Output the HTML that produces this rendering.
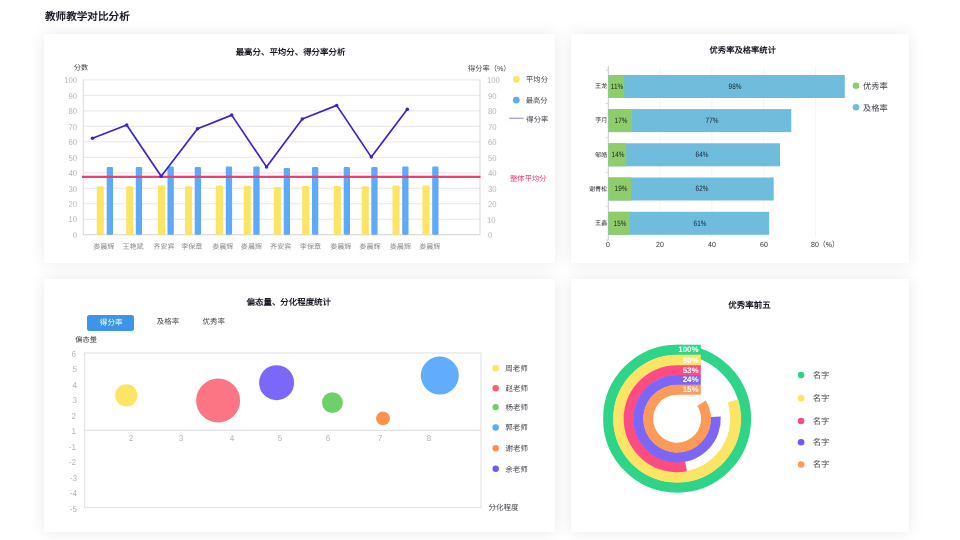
<!DOCTYPE html>
<html lang="zh-CN">
<head>
<meta charset="utf-8">
<title>教师教学对比分析</title>
<style>
html,body{margin:0;padding:0;}
body{width:960px;height:540px;overflow:hidden;background:#ffffff;font-family:"Liberation Sans",sans-serif;position:relative;text-rendering:geometricPrecision;}
.card{position:absolute;background:#ffffff;box-shadow:0 0 15px rgba(0,0,0,0.085);}
.t{position:absolute;white-space:nowrap;margin:0;padding:0;}
.btn{position:absolute;background:#3d95e9;border-radius:2.5px;}
svg{position:absolute;left:0;top:0;}
.layer{position:absolute;left:0;top:0;width:960px;height:540px;filter:blur(0.4px);}
</style>
</head>
<body>
<div class="card" style="left:44px;top:34px;width:511.3px;height:228.8px;"></div>
<div class="card" style="left:571.4px;top:34px;width:337.4px;height:228.8px;"></div>
<div class="card" style="left:44px;top:278.7px;width:511.3px;height:253px;"></div>
<div class="card" style="left:571.4px;top:278.7px;width:337.4px;height:253px;"></div>
<div class="layer">
<svg width="960" height="540" viewBox="0 0 960 540">
<rect x="83.3" y="234.20" width="396.7" height="1" fill="#e7e7eb"/>
<rect x="83.3" y="218.72" width="396.7" height="1" fill="#e7e7eb"/>
<rect x="83.3" y="203.24" width="396.7" height="1" fill="#e7e7eb"/>
<rect x="83.3" y="187.76" width="396.7" height="1" fill="#e7e7eb"/>
<rect x="83.3" y="172.28" width="396.7" height="1" fill="#e7e7eb"/>
<rect x="83.3" y="156.80" width="396.7" height="1" fill="#e7e7eb"/>
<rect x="83.3" y="141.32" width="396.7" height="1" fill="#e7e7eb"/>
<rect x="83.3" y="125.84" width="396.7" height="1" fill="#e7e7eb"/>
<rect x="83.3" y="110.36" width="396.7" height="1" fill="#e7e7eb"/>
<rect x="83.3" y="94.88" width="396.7" height="1" fill="#e7e7eb"/>
<rect x="83.3" y="79.40" width="396.7" height="1" fill="#e7e7eb"/>
<rect x="82.8" y="79.40" width="1" height="155.80" fill="#d9d9de"/>
<rect x="479.5" y="79.40" width="1" height="155.80" fill="#d9d9de"/>
<rect x="83.3" y="234.20" width="396.7" height="1" fill="#d9d9de"/>
<rect x="96.7" y="186.2" width="7.1" height="48.50" rx="1.2" fill="#fce465"/>
<rect x="106.7" y="167.0" width="6.3" height="67.70" rx="1.2" fill="#5ea9f8"/>
<rect x="126.2" y="186.2" width="7.1" height="48.50" rx="1.2" fill="#fce465"/>
<rect x="135.8" y="167.0" width="6.3" height="67.70" rx="1.2" fill="#5ea9f8"/>
<rect x="158.0" y="185.4" width="7.1" height="49.30" rx="1.2" fill="#fce465"/>
<rect x="167.5" y="166.6" width="6.3" height="68.10" rx="1.2" fill="#5ea9f8"/>
<rect x="185.0" y="186.2" width="7.1" height="48.50" rx="1.2" fill="#fce465"/>
<rect x="194.7" y="167.0" width="6.3" height="67.70" rx="1.2" fill="#5ea9f8"/>
<rect x="215.8" y="185.6" width="7.1" height="49.10" rx="1.2" fill="#fce465"/>
<rect x="225.8" y="166.6" width="6.3" height="68.10" rx="1.2" fill="#5ea9f8"/>
<rect x="243.7" y="185.8" width="7.1" height="48.90" rx="1.2" fill="#fce465"/>
<rect x="253.3" y="166.6" width="6.3" height="68.10" rx="1.2" fill="#5ea9f8"/>
<rect x="273.8" y="187.0" width="7.1" height="47.70" rx="1.2" fill="#fce465"/>
<rect x="283.7" y="168.0" width="6.3" height="66.70" rx="1.2" fill="#5ea9f8"/>
<rect x="302.2" y="186.0" width="7.1" height="48.70" rx="1.2" fill="#fce465"/>
<rect x="312.0" y="167.0" width="6.3" height="67.70" rx="1.2" fill="#5ea9f8"/>
<rect x="333.8" y="186.0" width="7.1" height="48.70" rx="1.2" fill="#fce465"/>
<rect x="343.7" y="167.0" width="6.3" height="67.70" rx="1.2" fill="#5ea9f8"/>
<rect x="361.7" y="186.2" width="7.1" height="48.50" rx="1.2" fill="#fce465"/>
<rect x="371.3" y="167.0" width="6.3" height="67.70" rx="1.2" fill="#5ea9f8"/>
<rect x="392.5" y="185.6" width="7.1" height="49.10" rx="1.2" fill="#fce465"/>
<rect x="402.2" y="166.6" width="6.3" height="68.10" rx="1.2" fill="#5ea9f8"/>
<rect x="422.5" y="185.6" width="7.1" height="49.10" rx="1.2" fill="#fce465"/>
<rect x="432.2" y="166.6" width="6.3" height="68.10" rx="1.2" fill="#5ea9f8"/>
<rect x="82" y="175.75" width="398.5" height="2.2" fill="#f23a6e"/>
<polyline fill="none" stroke="#3a20d8" stroke-width="1.7" stroke-linejoin="round" points="92.5,138.3 126.7,125.0 161.2,176.3 197.5,128.8 231.7,115.1 266.5,166.9 302.3,119.0 336.7,105.4 371.3,157.1 407.3,109.2"/>
<circle cx="92.5" cy="138.3" r="1.75" fill="#3a20d8"/>
<circle cx="126.7" cy="125.0" r="1.75" fill="#3a20d8"/>
<circle cx="161.2" cy="176.3" r="1.75" fill="#3a20d8"/>
<circle cx="197.5" cy="128.8" r="1.75" fill="#3a20d8"/>
<circle cx="231.7" cy="115.1" r="1.75" fill="#3a20d8"/>
<circle cx="266.5" cy="166.9" r="1.75" fill="#3a20d8"/>
<circle cx="302.3" cy="119.0" r="1.75" fill="#3a20d8"/>
<circle cx="336.7" cy="105.4" r="1.75" fill="#3a20d8"/>
<circle cx="371.3" cy="157.1" r="1.75" fill="#3a20d8"/>
<circle cx="407.3" cy="109.2" r="1.75" fill="#3a20d8"/>
<circle cx="516.3" cy="79.3" r="3.4" fill="#fce465"/>
<circle cx="516.3" cy="100.1" r="3.4" fill="#5ea9f8"/>
<rect x="509" y="117.7" width="14.7" height="1" fill="#8d7fe6"/>
<rect x="659.60" y="66" width="1" height="171" fill="#f4f4f6"/>
<rect x="711.40" y="66" width="1" height="171" fill="#f4f4f6"/>
<rect x="763.20" y="66" width="1" height="171" fill="#f4f4f6"/>
<rect x="815.00" y="66" width="1" height="171" fill="#f4f4f6"/>
<rect x="607.8" y="65.8" width="1" height="174.5" fill="#c9c9cf"/>
<rect x="605.8" y="69.6" width="2.2" height="0.8" fill="#c9c9cf"/>
<rect x="605.8" y="103.3" width="2.2" height="0.8" fill="#c9c9cf"/>
<rect x="605.8" y="137.4" width="2.2" height="0.8" fill="#c9c9cf"/>
<rect x="605.8" y="171.9" width="2.2" height="0.8" fill="#c9c9cf"/>
<rect x="605.8" y="205.9" width="2.2" height="0.8" fill="#c9c9cf"/>
<rect x="605.8" y="239.6" width="2.2" height="0.8" fill="#c9c9cf"/>
<rect x="608.3" y="75.0" width="236.5" height="23" fill="#70bcdd"/>
<rect x="608.3" y="75.0" width="15.9" height="23" fill="#8fcd6c"/>
<rect x="608.3" y="109.1" width="183.0" height="23" fill="#70bcdd"/>
<rect x="608.3" y="109.1" width="23.7" height="23" fill="#8fcd6c"/>
<rect x="608.3" y="143.3" width="171.7" height="23" fill="#70bcdd"/>
<rect x="608.3" y="143.3" width="17.9" height="23" fill="#8fcd6c"/>
<rect x="608.3" y="177.5" width="165.4" height="23" fill="#70bcdd"/>
<rect x="608.3" y="177.5" width="22.7" height="23" fill="#8fcd6c"/>
<rect x="608.3" y="211.8" width="160.9" height="23" fill="#70bcdd"/>
<rect x="608.3" y="211.8" width="21.5" height="23" fill="#8fcd6c"/>
<circle cx="856" cy="85.7" r="3.3" fill="#8fcd6c"/>
<circle cx="856" cy="107.2" r="3.3" fill="#70bcdd"/>
<rect x="84.7" y="353.0" width="396.3" height="154.6" fill="none" stroke="#dfdfe4" stroke-width="1"/>
<rect x="84.7" y="429.8" width="396.3" height="1" fill="#dadadf"/>
<circle cx="126.3" cy="395.3" r="11.1" fill="#fce465"/>
<circle cx="218.1" cy="400.5" r="22.0" fill="#fc7585"/>
<circle cx="276.6" cy="382.7" r="17.5" fill="#7c68f8"/>
<circle cx="332.4" cy="402.7" r="10.4" fill="#6fd06b"/>
<circle cx="383.0" cy="418.4" r="6.9" fill="#fc9150"/>
<circle cx="439.8" cy="375.6" r="19.0" fill="#62adfb"/>
<circle cx="495.7" cy="368.3" r="3.2" fill="#fce465"/>
<circle cx="495.7" cy="388.2" r="3.2" fill="#f4606f"/>
<circle cx="495.7" cy="407.1" r="3.2" fill="#6fd06b"/>
<circle cx="495.7" cy="427.5" r="3.2" fill="#5ea9f8"/>
<circle cx="495.7" cy="448.2" r="3.2" fill="#fc9150"/>
<circle cx="495.7" cy="468.8" r="3.2" fill="#7259f0"/>
<circle cx="677.1" cy="418.7" r="68.80" fill="none" stroke="#2ed487" stroke-width="10.40"/>
<rect x="676.6" y="344.70" width="24.2" height="10.40" fill="#2ed487"/>
<path d="M677.10,354.70 A64.0,64.0 0 1 0 738.04,399.14 L727.66,402.47 A53.1,53.1 0 1 1 677.10,365.60 Z" fill="#fce465"/>
<rect x="676.6" y="354.70" width="24.2" height="10.90" fill="#fce465"/>
<path d="M677.10,365.20 A53.5,53.5 0 1 0 686.94,471.29 L685.07,461.26 A43.300000000000004,43.300000000000004 0 1 1 677.10,375.40 Z" fill="#fd4c82"/>
<rect x="676.6" y="365.20" width="24.2" height="10.20" fill="#fd4c82"/>
<path d="M677.10,375.00 A43.7,43.7 0 1 0 720.74,416.41 L710.65,416.94 A33.6,33.6 0 1 1 677.10,385.10 Z" fill="#7b66f8"/>
<rect x="676.6" y="375.00" width="24.2" height="10.10" fill="#7b66f8"/>
<path d="M677.10,384.70 A34.0,34.0 0 1 0 705.78,400.43 L697.34,405.80 A24.0,24.0 0 1 1 677.10,394.70 Z" fill="#fc9b59"/>
<rect x="676.6" y="384.70" width="24.2" height="10.00" fill="#fc9b59"/>
<circle cx="801.1" cy="375.1" r="3.3" fill="#2ed487"/>
<circle cx="801.1" cy="398.3" r="3.3" fill="#fce465"/>
<circle cx="801.1" cy="421.0" r="3.3" fill="#fd4c82"/>
<circle cx="801.1" cy="442.3" r="3.3" fill="#7259f0"/>
<circle cx="801.1" cy="464.5" r="3.3" fill="#fc9b59"/>
</svg>
<div class="btn" style="left:86.7px;top:315px;width:47.1px;height:15.5px;"></div>
<div class="t" id="t0" style="left:45.00px;top:10.18px;height:14.84px;line-height:14.84px;font-size:10.6px;color:#1c1c28;font-weight:bold;">教师教学对比分析</div>
<div class="t" id="t1" style="left:290.50px;top:47.03px;height:11.83px;line-height:11.83px;font-size:8.45px;color:#1c1c28;font-weight:bold;transform-origin:50% 50%;transform:translateX(-50%);">最高分、平均分、得分率分析</div>
<div class="t" id="t2" style="left:73.83px;top:63.19px;height:10.08px;line-height:10.08px;font-size:7.2px;color:#42424a;">分数</div>
<div class="t" id="t3" style="left:467.88px;top:63.99px;height:10.15px;line-height:10.15px;font-size:7.25px;color:#42424a;">得分率（%）</div>
<div class="t" id="t4" style="left:77.33px;top:230.15px;height:11.76px;line-height:11.76px;font-size:8.4px;color:#b4b4ba;transform-origin:100% 50%;transform:translateX(-100%) scaleX(0.92);">0</div>
<div class="t" id="t5" style="left:487.62px;top:230.18px;height:11.76px;line-height:11.76px;font-size:8.4px;color:#b4b4ba;transform-origin:0 50%;transform:scaleX(0.92);">0</div>
<div class="t" id="t6" style="left:77.33px;top:214.28px;height:11.76px;line-height:11.76px;font-size:8.4px;color:#b4b4ba;transform-origin:100% 50%;transform:translateX(-100%) scaleX(0.92);">10</div>
<div class="t" id="t7" style="left:486.73px;top:214.80px;height:11.76px;line-height:11.76px;font-size:8.4px;color:#b4b4ba;transform-origin:0 50%;transform:scaleX(0.92);">10</div>
<div class="t" id="t8" style="left:77.33px;top:199.23px;height:11.76px;line-height:11.76px;font-size:8.4px;color:#b4b4ba;transform-origin:100% 50%;transform:translateX(-100%) scaleX(0.92);">20</div>
<div class="t" id="t9" style="left:487.60px;top:199.26px;height:11.76px;line-height:11.76px;font-size:8.4px;color:#b4b4ba;transform-origin:0 50%;transform:scaleX(0.92);">20</div>
<div class="t" id="t10" style="left:77.33px;top:183.86px;height:11.76px;line-height:11.76px;font-size:8.4px;color:#b4b4ba;transform-origin:100% 50%;transform:translateX(-100%) scaleX(0.92);">30</div>
<div class="t" id="t11" style="left:488.26px;top:183.92px;height:11.76px;line-height:11.76px;font-size:8.4px;color:#b4b4ba;transform-origin:0 50%;transform:scaleX(0.92);">30</div>
<div class="t" id="t12" style="left:77.33px;top:168.31px;height:11.76px;line-height:11.76px;font-size:8.4px;color:#b4b4ba;transform-origin:100% 50%;transform:translateX(-100%) scaleX(0.92);">40</div>
<div class="t" id="t13" style="left:487.69px;top:168.34px;height:11.76px;line-height:11.76px;font-size:8.4px;color:#b4b4ba;transform-origin:0 50%;transform:scaleX(0.92);">40</div>
<div class="t" id="t14" style="left:77.33px;top:152.98px;height:11.76px;line-height:11.76px;font-size:8.4px;color:#b4b4ba;transform-origin:100% 50%;transform:translateX(-100%) scaleX(0.92);">50</div>
<div class="t" id="t15" style="left:487.52px;top:153.04px;height:11.76px;line-height:11.76px;font-size:8.4px;color:#b4b4ba;transform-origin:0 50%;transform:scaleX(0.92);">50</div>
<div class="t" id="t16" style="left:77.33px;top:137.39px;height:11.76px;line-height:11.76px;font-size:8.4px;color:#b4b4ba;transform-origin:100% 50%;transform:translateX(-100%) scaleX(0.92);">60</div>
<div class="t" id="t17" style="left:487.63px;top:137.42px;height:11.76px;line-height:11.76px;font-size:8.4px;color:#b4b4ba;transform-origin:0 50%;transform:scaleX(0.92);">60</div>
<div class="t" id="t18" style="left:77.33px;top:122.10px;height:11.76px;line-height:11.76px;font-size:8.4px;color:#b4b4ba;transform-origin:100% 50%;transform:translateX(-100%) scaleX(0.92);">70</div>
<div class="t" id="t19" style="left:488.22px;top:122.16px;height:11.76px;line-height:11.76px;font-size:8.4px;color:#b4b4ba;transform-origin:0 50%;transform:scaleX(0.92);">70</div>
<div class="t" id="t20" style="left:77.33px;top:106.47px;height:11.76px;line-height:11.76px;font-size:8.4px;color:#b4b4ba;transform-origin:100% 50%;transform:translateX(-100%) scaleX(0.92);">80</div>
<div class="t" id="t21" style="left:487.63px;top:105.72px;height:11.76px;line-height:11.76px;font-size:8.4px;color:#b4b4ba;transform-origin:0 50%;transform:scaleX(0.92);">80</div>
<div class="t" id="t22" style="left:77.33px;top:90.51px;height:11.76px;line-height:11.76px;font-size:8.4px;color:#b4b4ba;transform-origin:100% 50%;transform:translateX(-100%) scaleX(0.92);">90</div>
<div class="t" id="t23" style="left:487.58px;top:90.54px;height:11.76px;line-height:11.76px;font-size:8.4px;color:#b4b4ba;transform-origin:0 50%;transform:scaleX(0.92);">90</div>
<div class="t" id="t24" style="left:77.33px;top:74.78px;height:11.76px;line-height:11.76px;font-size:8.4px;color:#b4b4ba;transform-origin:100% 50%;transform:translateX(-100%) scaleX(0.92);">100</div>
<div class="t" id="t25" style="left:486.73px;top:74.84px;height:11.76px;line-height:11.76px;font-size:8.4px;color:#b4b4ba;transform-origin:0 50%;transform:scaleX(0.92);">100</div>
<div class="t" id="t26" style="left:103.80px;top:243.23px;height:9.94px;line-height:9.94px;font-size:7.1px;color:#8c8c92;transform-origin:50% 50%;transform:translateX(-50%);">娄晨辉</div>
<div class="t" id="t27" style="left:133.03px;top:243.20px;height:9.94px;line-height:9.94px;font-size:7.1px;color:#8c8c92;transform-origin:50% 50%;transform:translateX(-50%);">王艳斌</div>
<div class="t" id="t28" style="left:164.00px;top:243.20px;height:9.94px;line-height:9.94px;font-size:7.1px;color:#8c8c92;transform-origin:50% 50%;transform:translateX(-50%);">齐安宾</div>
<div class="t" id="t29" style="left:191.80px;top:243.23px;height:9.94px;line-height:9.94px;font-size:7.1px;color:#8c8c92;transform-origin:50% 50%;transform:translateX(-50%);">李保章</div>
<div class="t" id="t30" style="left:222.80px;top:243.23px;height:9.94px;line-height:9.94px;font-size:7.1px;color:#8c8c92;transform-origin:50% 50%;transform:translateX(-50%);">娄晨辉</div>
<div class="t" id="t31" style="left:251.50px;top:243.28px;height:9.94px;line-height:9.94px;font-size:7.1px;color:#8c8c92;transform-origin:50% 50%;transform:translateX(-50%);">娄晨辉</div>
<div class="t" id="t32" style="left:280.70px;top:243.23px;height:9.94px;line-height:9.94px;font-size:7.1px;color:#8c8c92;transform-origin:50% 50%;transform:translateX(-50%);">齐安宾</div>
<div class="t" id="t33" style="left:310.50px;top:243.28px;height:9.94px;line-height:9.94px;font-size:7.1px;color:#8c8c92;transform-origin:50% 50%;transform:translateX(-50%);">李保章</div>
<div class="t" id="t34" style="left:340.80px;top:243.23px;height:9.94px;line-height:9.94px;font-size:7.1px;color:#8c8c92;transform-origin:50% 50%;transform:translateX(-50%);">娄晨辉</div>
<div class="t" id="t35" style="left:370.00px;top:243.20px;height:9.94px;line-height:9.94px;font-size:7.1px;color:#8c8c92;transform-origin:50% 50%;transform:translateX(-50%);">娄晨辉</div>
<div class="t" id="t36" style="left:400.40px;top:243.26px;height:9.94px;line-height:9.94px;font-size:7.1px;color:#8c8c92;transform-origin:50% 50%;transform:translateX(-50%);">娄晨辉</div>
<div class="t" id="t37" style="left:429.80px;top:243.23px;height:9.94px;line-height:9.94px;font-size:7.1px;color:#8c8c92;transform-origin:50% 50%;transform:translateX(-50%);">娄晨辉</div>
<div class="t" id="t38" style="left:510.08px;top:173.75px;height:10.22px;line-height:10.22px;font-size:7.3px;color:#f23a6e;">整体平均分</div>
<div class="t" id="t39" style="left:526.08px;top:74.55px;height:10.22px;line-height:10.22px;font-size:7.3px;color:#42424a;">平均分</div>
<div class="t" id="t40" style="left:525.69px;top:95.75px;height:10.22px;line-height:10.22px;font-size:7.3px;color:#42424a;">最高分</div>
<div class="t" id="t41" style="left:526.37px;top:114.96px;height:10.22px;line-height:10.22px;font-size:7.3px;color:#42424a;">得分率</div>
<div class="t" id="t42" style="left:742.76px;top:45.06px;height:11.62px;line-height:11.62px;font-size:8.3px;color:#1c1c28;font-weight:bold;transform-origin:50% 50%;transform:translateX(-50%);">优秀率及格率统计</div>
<div class="t" id="t43" style="left:607.28px;top:82.99px;height:8.54px;line-height:8.54px;font-size:6.1px;color:#33333a;transform-origin:100% 50%;transform:translateX(-100%);">王龙</div>
<div class="t" id="t44" style="left:617.20px;top:81.52px;height:10.92px;line-height:10.92px;font-size:7.8px;color:#16221a;transform-origin:50% 50%;transform:translateX(-50%) scaleX(0.82);">11%</div>
<div class="t" id="t45" style="left:734.91px;top:81.52px;height:10.92px;line-height:10.92px;font-size:7.8px;color:#14232c;transform-origin:50% 50%;transform:translateX(-50%) scaleX(0.82);">98%</div>
<div class="t" id="t46" style="left:607.45px;top:117.19px;height:8.54px;line-height:8.54px;font-size:6.1px;color:#33333a;transform-origin:100% 50%;transform:translateX(-100%);">李月</div>
<div class="t" id="t47" style="left:620.70px;top:115.72px;height:10.92px;line-height:10.92px;font-size:7.8px;color:#16221a;transform-origin:50% 50%;transform:translateX(-50%) scaleX(0.82);">17%</div>
<div class="t" id="t48" style="left:711.90px;top:115.72px;height:10.92px;line-height:10.92px;font-size:7.8px;color:#14232c;transform-origin:50% 50%;transform:translateX(-50%) scaleX(0.82);">77%</div>
<div class="t" id="t49" style="left:607.31px;top:151.52px;height:8.54px;line-height:8.54px;font-size:6.1px;color:#33333a;transform-origin:100% 50%;transform:translateX(-100%);">邹皓</div>
<div class="t" id="t50" style="left:618.10px;top:150.13px;height:10.92px;line-height:10.92px;font-size:7.8px;color:#16221a;transform-origin:50% 50%;transform:translateX(-50%) scaleX(0.82);">14%</div>
<div class="t" id="t51" style="left:701.70px;top:150.13px;height:10.92px;line-height:10.92px;font-size:7.8px;color:#14232c;transform-origin:50% 50%;transform:translateX(-50%) scaleX(0.82);">64%</div>
<div class="t" id="t52" style="left:607.16px;top:185.97px;height:8.54px;line-height:8.54px;font-size:6.1px;color:#33333a;transform-origin:100% 50%;transform:translateX(-100%);">谢青松</div>
<div class="t" id="t53" style="left:620.80px;top:183.91px;height:10.92px;line-height:10.92px;font-size:7.8px;color:#16221a;transform-origin:50% 50%;transform:translateX(-50%) scaleX(0.82);">19%</div>
<div class="t" id="t54" style="left:702.20px;top:183.91px;height:10.92px;line-height:10.92px;font-size:7.8px;color:#14232c;transform-origin:50% 50%;transform:translateX(-50%) scaleX(0.82);">62%</div>
<div class="t" id="t55" style="left:607.28px;top:219.59px;height:8.54px;line-height:8.54px;font-size:6.1px;color:#33333a;transform-origin:100% 50%;transform:translateX(-100%);">王鑫</div>
<div class="t" id="t56" style="left:620.00px;top:219.13px;height:10.92px;line-height:10.92px;font-size:7.8px;color:#16221a;transform-origin:50% 50%;transform:translateX(-50%) scaleX(0.82);">15%</div>
<div class="t" id="t57" style="left:700.36px;top:219.13px;height:10.92px;line-height:10.92px;font-size:7.8px;color:#14232c;transform-origin:50% 50%;transform:translateX(-50%) scaleX(0.82);">61%</div>
<div class="t" id="t58" style="left:608.21px;top:240.31px;height:10.64px;line-height:10.64px;font-size:7.6px;color:#33333a;transform-origin:50% 50%;transform:translateX(-50%) scaleX(0.92);">0</div>
<div class="t" id="t59" style="left:660.10px;top:240.31px;height:10.64px;line-height:10.64px;font-size:7.6px;color:#33333a;transform-origin:50% 50%;transform:translateX(-50%) scaleX(0.92);">20</div>
<div class="t" id="t60" style="left:711.90px;top:240.31px;height:10.64px;line-height:10.64px;font-size:7.6px;color:#33333a;transform-origin:50% 50%;transform:translateX(-50%) scaleX(0.92);">40</div>
<div class="t" id="t61" style="left:763.70px;top:240.31px;height:10.64px;line-height:10.64px;font-size:7.6px;color:#33333a;transform-origin:50% 50%;transform:translateX(-50%) scaleX(0.92);">60</div>
<div class="t" id="t62" style="left:810.98px;top:240.31px;height:10.64px;line-height:10.64px;font-size:7.6px;color:#33333a;transform-origin:0 50%;transform:scaleX(0.92);">80（%）</div>
<div class="t" id="t63" style="left:863.08px;top:80.56px;height:11.48px;line-height:11.48px;font-size:8.2px;color:#42424a;">优秀率</div>
<div class="t" id="t64" style="left:863.02px;top:102.94px;height:11.48px;line-height:11.48px;font-size:8.2px;color:#42424a;">及格率</div>
<div class="t" id="t65" style="left:288.80px;top:297.36px;height:11.83px;line-height:11.83px;font-size:8.45px;color:#1c1c28;font-weight:bold;transform-origin:50% 50%;transform:translateX(-50%);">偏态量、分化程度统计</div>
<div class="t" id="t66" style="left:111.20px;top:317.91px;height:10.64px;line-height:10.64px;font-size:7.6px;color:#ffffff;transform-origin:50% 50%;transform:translateX(-50%);">得分率</div>
<div class="t" id="t67" style="left:156.72px;top:317.06px;height:10.5px;line-height:10.5px;font-size:7.5px;color:#42424a;">及格率</div>
<div class="t" id="t68" style="left:202.56px;top:317.10px;height:10.5px;line-height:10.5px;font-size:7.5px;color:#42424a;">优秀率</div>
<div class="t" id="t69" style="left:75.36px;top:334.56px;height:10.08px;line-height:10.08px;font-size:7.2px;color:#42424a;">偏态量</div>
<div class="t" id="t70" style="left:488.53px;top:503.27px;height:10.5px;line-height:10.5px;font-size:7.5px;color:#42424a;">分化程度</div>
<div class="t" id="t71" style="left:76.10px;top:349.26px;height:11.9px;line-height:11.9px;font-size:8.5px;color:#b4b4ba;transform-origin:100% 50%;transform:translateX(-100%) scaleX(0.95);">6</div>
<div class="t" id="t72" style="left:77.07px;top:364.41px;height:11.9px;line-height:11.9px;font-size:8.5px;color:#b4b4ba;transform-origin:100% 50%;transform:translateX(-100%) scaleX(0.95);">5</div>
<div class="t" id="t73" style="left:76.71px;top:380.13px;height:11.9px;line-height:11.9px;font-size:8.5px;color:#b4b4ba;transform-origin:100% 50%;transform:translateX(-100%) scaleX(0.95);">4</div>
<div class="t" id="t74" style="left:77.05px;top:395.33px;height:11.9px;line-height:11.9px;font-size:8.5px;color:#b4b4ba;transform-origin:100% 50%;transform:translateX(-100%) scaleX(0.95);">3</div>
<div class="t" id="t75" style="left:76.37px;top:411.02px;height:11.9px;line-height:11.9px;font-size:8.5px;color:#b4b4ba;transform-origin:100% 50%;transform:translateX(-100%) scaleX(0.95);">2</div>
<div class="t" id="t76" style="left:76.37px;top:426.25px;height:11.9px;line-height:11.9px;font-size:8.5px;color:#b4b4ba;transform-origin:100% 50%;transform:translateX(-100%) scaleX(0.95);">1</div>
<div class="t" id="t77" style="left:76.37px;top:441.90px;height:11.9px;line-height:11.9px;font-size:8.5px;color:#b4b4ba;transform-origin:100% 50%;transform:translateX(-100%) scaleX(0.95);">-1</div>
<div class="t" id="t78" style="left:76.37px;top:457.17px;height:11.9px;line-height:11.9px;font-size:8.5px;color:#b4b4ba;transform-origin:100% 50%;transform:translateX(-100%) scaleX(0.95);">-2</div>
<div class="t" id="t79" style="left:77.05px;top:473.13px;height:11.9px;line-height:11.9px;font-size:8.5px;color:#b4b4ba;transform-origin:100% 50%;transform:translateX(-100%) scaleX(0.95);">-3</div>
<div class="t" id="t80" style="left:76.71px;top:488.09px;height:11.9px;line-height:11.9px;font-size:8.5px;color:#b4b4ba;transform-origin:100% 50%;transform:translateX(-100%) scaleX(0.95);">-4</div>
<div class="t" id="t81" style="left:77.07px;top:504.05px;height:11.9px;line-height:11.9px;font-size:8.5px;color:#b4b4ba;transform-origin:100% 50%;transform:translateX(-100%) scaleX(0.95);">-5</div>
<div class="t" id="t82" style="left:131.24px;top:433.25px;height:11.9px;line-height:11.9px;font-size:8.5px;color:#b4b4ba;transform-origin:50% 50%;transform:translateX(-50%) scaleX(0.95);">2</div>
<div class="t" id="t83" style="left:181.00px;top:433.25px;height:11.9px;line-height:11.9px;font-size:8.5px;color:#b4b4ba;transform-origin:50% 50%;transform:translateX(-50%) scaleX(0.95);">3</div>
<div class="t" id="t84" style="left:232.42px;top:433.25px;height:11.9px;line-height:11.9px;font-size:8.5px;color:#b4b4ba;transform-origin:50% 50%;transform:translateX(-50%) scaleX(0.95);">4</div>
<div class="t" id="t85" style="left:280.43px;top:433.25px;height:11.9px;line-height:11.9px;font-size:8.5px;color:#b4b4ba;transform-origin:50% 50%;transform:translateX(-50%) scaleX(0.95);">5</div>
<div class="t" id="t86" style="left:328.33px;top:433.25px;height:11.9px;line-height:11.9px;font-size:8.5px;color:#b4b4ba;transform-origin:50% 50%;transform:translateX(-50%) scaleX(0.95);">6</div>
<div class="t" id="t87" style="left:380.30px;top:433.25px;height:11.9px;line-height:11.9px;font-size:8.5px;color:#b4b4ba;transform-origin:50% 50%;transform:translateX(-50%) scaleX(0.95);">7</div>
<div class="t" id="t88" style="left:428.93px;top:433.25px;height:11.9px;line-height:11.9px;font-size:8.5px;color:#b4b4ba;transform-origin:50% 50%;transform:translateX(-50%) scaleX(0.95);">8</div>
<div class="t" id="t89" style="left:505.37px;top:364.28px;height:10.5px;line-height:10.5px;font-size:7.5px;color:#42424a;">周老师</div>
<div class="t" id="t90" style="left:505.54px;top:384.07px;height:10.5px;line-height:10.5px;font-size:7.5px;color:#42424a;">赵老师</div>
<div class="t" id="t91" style="left:505.43px;top:402.87px;height:10.5px;line-height:10.5px;font-size:7.5px;color:#42424a;">杨老师</div>
<div class="t" id="t92" style="left:505.36px;top:423.00px;height:10.5px;line-height:10.5px;font-size:7.5px;color:#42424a;">郭老师</div>
<div class="t" id="t93" style="left:505.40px;top:444.07px;height:10.5px;line-height:10.5px;font-size:7.5px;color:#42424a;">谢老师</div>
<div class="t" id="t94" style="left:505.29px;top:464.90px;height:10.5px;line-height:10.5px;font-size:7.5px;color:#42424a;">余老师</div>
<div class="t" id="t95" style="left:749.40px;top:300.12px;height:11.9px;line-height:11.9px;font-size:8.5px;color:#1c1c28;font-weight:bold;transform-origin:50% 50%;transform:translateX(-50%);">优秀率前五</div>
<div class="t" id="t96" style="left:698.70px;top:383.90px;height:11.2px;line-height:11.2px;font-size:8.0px;color:#ffffff;font-weight:bold;transform-origin:100% 50%;transform:translateX(-100%);">15%</div>
<div class="t" id="t97" style="left:698.70px;top:374.05px;height:11.2px;line-height:11.2px;font-size:8.0px;color:#ffffff;font-weight:bold;transform-origin:100% 50%;transform:translateX(-100%);">24%</div>
<div class="t" id="t98" style="left:698.70px;top:364.96px;height:11.2px;line-height:11.2px;font-size:8.0px;color:#ffffff;font-weight:bold;transform-origin:100% 50%;transform:translateX(-100%);">53%</div>
<div class="t" id="t99" style="left:698.70px;top:354.67px;height:11.2px;line-height:11.2px;font-size:8.0px;color:#ffffff;font-weight:bold;transform-origin:100% 50%;transform:translateX(-100%);">80%</div>
<div class="t" id="t100" style="left:698.70px;top:343.90px;height:11.2px;line-height:11.2px;font-size:8.0px;color:#ffffff;font-weight:bold;transform-origin:100% 50%;transform:translateX(-100%);">100%</div>
<div class="t" id="t101" style="left:812.75px;top:370.18px;height:11.62px;line-height:11.62px;font-size:8.3px;color:#42424a;">名字</div>
<div class="t" id="t102" style="left:812.75px;top:392.88px;height:11.62px;line-height:11.62px;font-size:8.3px;color:#42424a;">名字</div>
<div class="t" id="t103" style="left:812.75px;top:415.87px;height:11.62px;line-height:11.62px;font-size:8.3px;color:#42424a;">名字</div>
<div class="t" id="t104" style="left:812.75px;top:436.88px;height:11.62px;line-height:11.62px;font-size:8.3px;color:#42424a;">名字</div>
<div class="t" id="t105" style="left:812.75px;top:459.28px;height:11.62px;line-height:11.62px;font-size:8.3px;color:#42424a;">名字</div>
</div>
</body>
</html>
